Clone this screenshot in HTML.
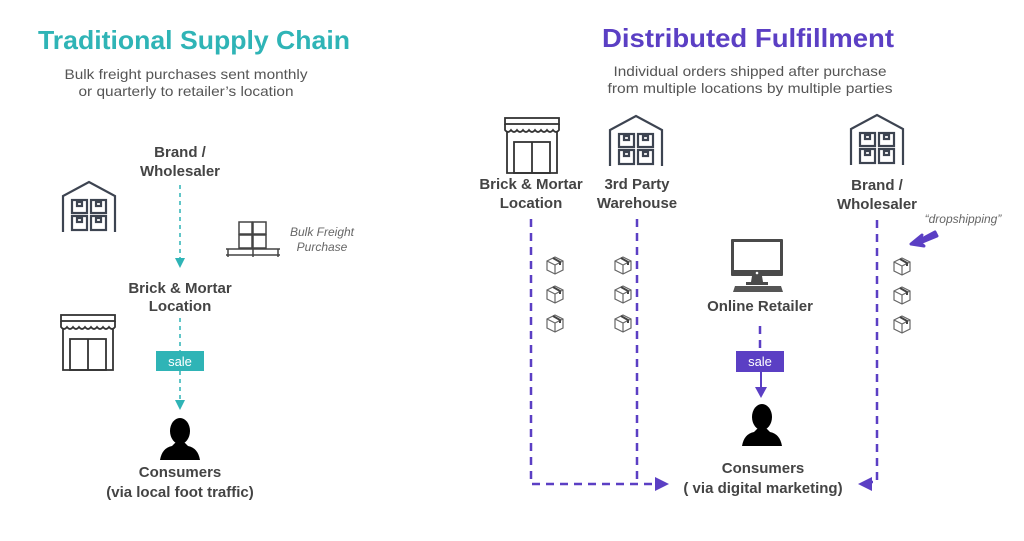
<!DOCTYPE html>
<html><head><meta charset="utf-8"><style>
html,body{margin:0;padding:0;background:#fff;}
svg{display:block;}
text{font-family:"Liberation Sans",sans-serif;}
.t{font-weight:bold;fill:#444;font-size:15px;text-anchor:middle;}
.s{fill:#555;font-size:14px;text-anchor:middle;}
</style></head><body>
<svg width="1024" height="541" viewBox="0 0 1024 541" xmlns="http://www.w3.org/2000/svg">
<defs>
<g id="wh" fill="none" stroke="#3d4451" stroke-width="2.2">
  <path d="M2 52 V16 L28 2 L54 16 V52"/>
  <rect x="11" y="20" width="15" height="13"/><rect x="30" y="20" width="15" height="13"/>
  <rect x="11" y="36" width="15" height="14"/><rect x="30" y="36" width="15" height="14"/>
  <rect x="16" y="22" width="5" height="4"/><rect x="35" y="22" width="5" height="4"/>
  <rect x="16" y="38" width="5" height="4"/><rect x="35" y="38" width="5" height="4"/>
</g>
<g id="st" fill="none" stroke="#333" stroke-width="1.8">
  <rect x="1" y="1" width="54" height="6"/>
  <path d="M1 7 V13 q3 4 6 0 q3 4 6 0 q3 4 6 0 q3 4 6 0 q3 4 6 0 q3 4 6 0 q3 4 6 0 q3 4 6 0 q3 4 6 0 V7"/>
  <path d="M3 14 V56 H53 V14"/>
  <rect x="10" y="25" width="36" height="31"/><path d="M28 25 V56"/>
</g>
<g id="bx" fill="none" stroke="#666" stroke-width="1.2">
  <path d="M2 6 L10 2 L18 6 V15 L10 19 L2 15 Z M2 6 L10 10 L18 6 M10 10 V19"/>
  <path d="M8 3 L15 7 V10" stroke="#444" stroke-width="2"/>
</g>
<g id="pp" fill="#000">
  <ellipse cx="20" cy="13" rx="10" ry="13"/>
  <path d="M0 42 Q2 30 12 28 L16 24 H24 L28 28 Q38 30 40 42 Z"/>
</g>
</defs>

<!-- LEFT -->
<text x="194" y="49" text-anchor="middle" font-size="26" font-weight="bold" fill="#2fb4b6" textLength="312" lengthAdjust="spacingAndGlyphs">Traditional Supply Chain</text>
<text x="186" y="79" class="s" textLength="243" lengthAdjust="spacingAndGlyphs">Bulk freight purchases sent monthly</text>
<text x="186" y="96" class="s" textLength="215" lengthAdjust="spacingAndGlyphs">or quarterly to retailer’s location</text>

<text x="180" y="157" class="t">Brand /</text>
<text x="180" y="176" class="t">Wholesaler</text>
<use href="#wh" x="61" y="180"/>
<line x1="180" y1="185" x2="180" y2="258" stroke="#2fb4b6" stroke-width="1.5" stroke-dasharray="4,4"/>
<path d="M175 258 H185 L180 268 Z" fill="#2fb4b6"/>
<g fill="none" stroke="#444" stroke-width="1.5">
  <rect x="239" y="222" width="13" height="12"/><rect x="253" y="222" width="13" height="12"/>
  <rect x="239" y="235" width="13" height="13"/><rect x="253" y="235" width="13" height="13"/>
  <path d="M226 249 H280 M226 255 H280 M228 249 V257 M253 249 V257 M278 249 V257"/>
</g>
<text x="322" y="236" text-anchor="middle" font-size="12" font-style="italic" fill="#666">Bulk Freight</text>
<text x="322" y="251" text-anchor="middle" font-size="12" font-style="italic" fill="#666">Purchase</text>

<text x="180" y="293" class="t">Brick &amp; Mortar</text>
<text x="180" y="311" class="t">Location</text>
<use href="#st" x="60" y="314"/>
<line x1="180" y1="318" x2="180" y2="351" stroke="#2fb4b6" stroke-width="1.5" stroke-dasharray="4,4"/>
<rect x="156" y="351" width="48" height="20" fill="#2fb4b6"/>
<text x="180" y="366" text-anchor="middle" font-size="13" fill="#fff">sale</text>
<line x1="180" y1="371" x2="180" y2="400" stroke="#2fb4b6" stroke-width="1.5" stroke-dasharray="4,4"/>
<path d="M175 400 H185 L180 410 Z" fill="#2fb4b6"/>
<use href="#pp" x="160" y="418"/>
<text x="180" y="477" class="t">Consumers</text>
<text x="180" y="497" class="t">(via local foot traffic)</text>

<!-- RIGHT -->
<text x="748" y="47" text-anchor="middle" font-size="26" font-weight="bold" fill="#5b3fc4" textLength="292" lengthAdjust="spacingAndGlyphs">Distributed Fulfillment</text>
<text x="750" y="76" class="s" textLength="273" lengthAdjust="spacingAndGlyphs">Individual orders shipped after purchase</text>
<text x="750" y="93" class="s" textLength="285" lengthAdjust="spacingAndGlyphs">from multiple locations by multiple parties</text>

<use href="#st" x="504" y="117"/>
<use href="#wh" x="608" y="114"/>
<use href="#wh" x="849" y="113"/>
<text x="531" y="189" class="t">Brick &amp; Mortar</text>
<text x="531" y="208" class="t">Location</text>
<text x="637" y="189" class="t">3rd Party</text>
<text x="637" y="208" class="t">Warehouse</text>
<text x="877" y="190" class="t">Brand /</text>
<text x="877" y="209" class="t">Wholesaler</text>

<g stroke="#5b3fc4" stroke-width="2.5" stroke-dasharray="8,6" fill="none">
  <path d="M531 219 V484 H658"/>
  <path d="M637 219 V484"/>
  <path d="M877 220 V482 H870"/>
</g>
<path d="M655 477 L669 484 L655 491 Z" fill="#5b3fc4"/>
<path d="M872 477 L858 484 L872 491 Z" fill="#5b3fc4"/>

<use href="#bx" x="545" y="255"/><use href="#bx" x="545" y="284"/><use href="#bx" x="545" y="313"/>
<use href="#bx" x="613" y="255"/><use href="#bx" x="613" y="284"/><use href="#bx" x="613" y="313"/>
<use href="#bx" x="892" y="256"/><use href="#bx" x="892" y="285"/><use href="#bx" x="892" y="314"/>

<text x="963" y="223" text-anchor="middle" font-size="12" font-style="italic" fill="#666">“dropshipping”</text>
<path d="M935 232 L920 240 L922 235 L911 244 L924 246 L920 243 L937 236 Z" fill="#5b3fc4" stroke="#5b3fc4" stroke-width="3" stroke-linejoin="round"/>

<!-- computer -->
<rect x="731" y="239" width="52" height="37" fill="#4a4a4a" rx="1"/>
<rect x="734" y="242" width="46" height="28" fill="#fff"/>
<circle cx="757" cy="273" r="1.3" fill="#fff"/>
<path d="M752 276 H762 L763 282 H751 Z" fill="#4a4a4a"/>
<rect x="746" y="282" width="22" height="3" fill="#4a4a4a"/>
<path d="M735 286 H781 L783 292 H733 Z" fill="#555"/>
<text x="760" y="311" class="t">Online Retailer</text>

<line x1="760" y1="326" x2="760" y2="351" stroke="#5b3fc4" stroke-width="2.5" stroke-dasharray="8,6"/>
<rect x="736" y="351" width="48" height="21" fill="#5b3fc4"/>
<text x="760" y="366" text-anchor="middle" font-size="13" fill="#fff">sale</text>
<line x1="761" y1="372" x2="761" y2="388" stroke="#5b3fc4" stroke-width="2"/>
<path d="M755 387 H767 L761 398 Z" fill="#5b3fc4"/>
<use href="#pp" x="742" y="404"/>
<text x="763" y="473" class="t">Consumers</text>
<text x="763" y="493" class="t">( via digital marketing)</text>
</svg>
</body></html>
